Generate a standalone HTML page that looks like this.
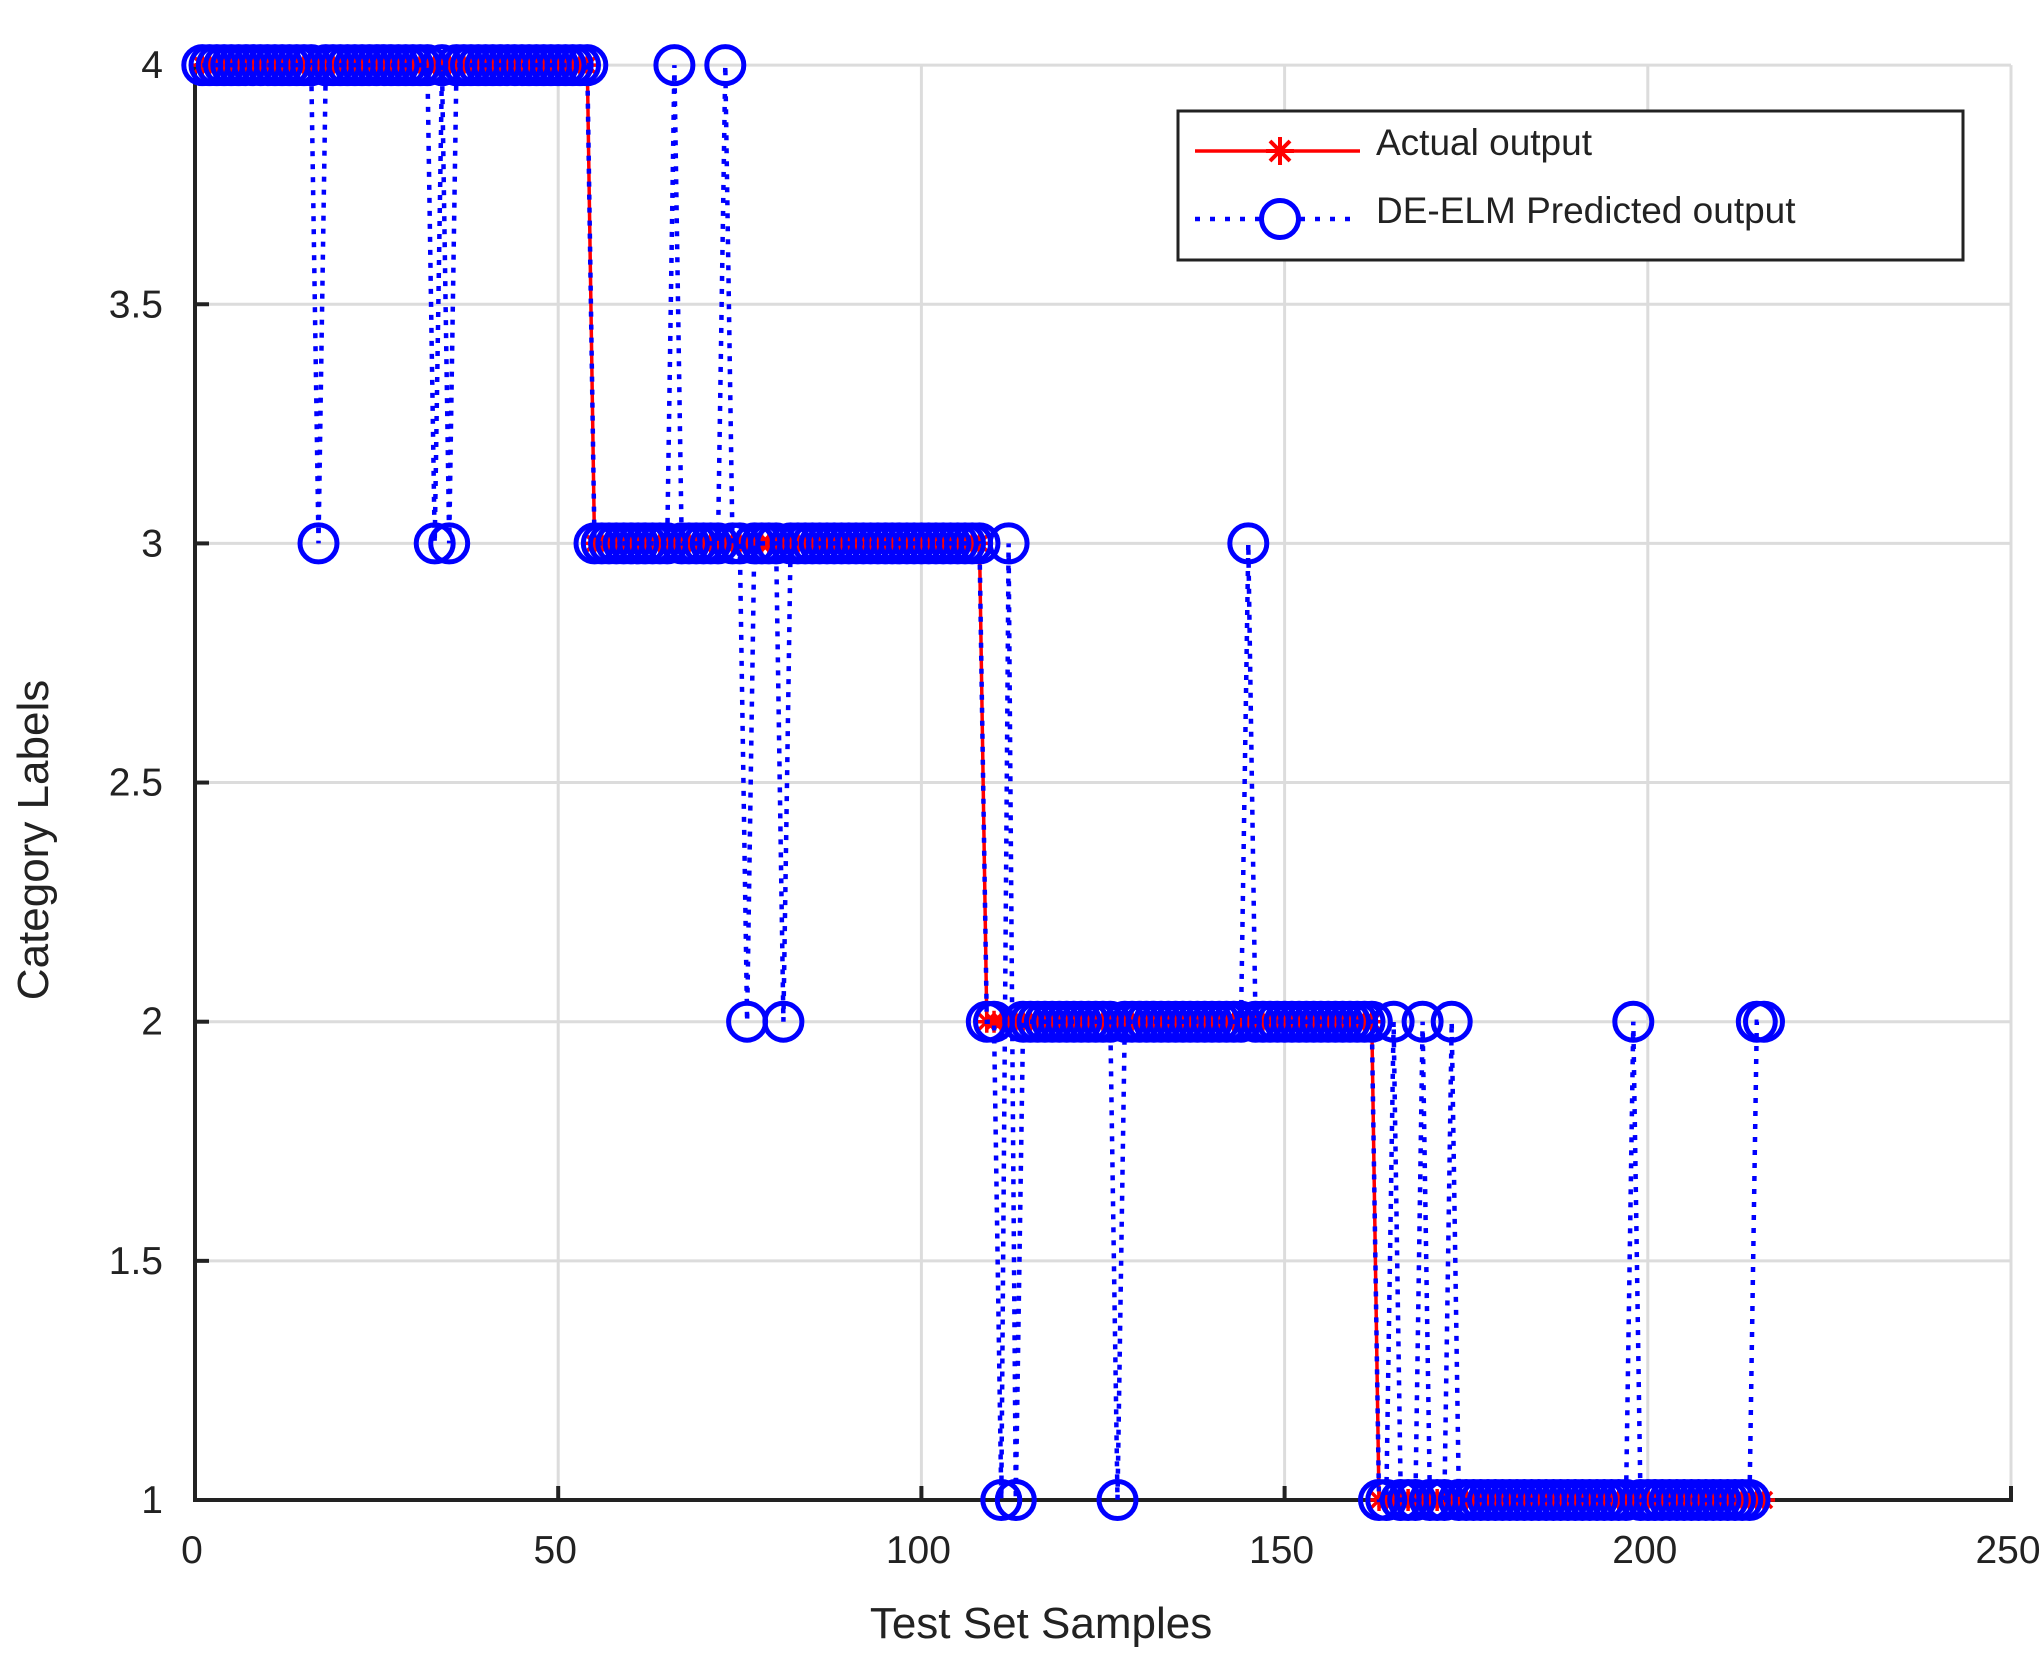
<!DOCTYPE html>
<html><head><meta charset="utf-8"><style>
html,body{margin:0;padding:0;background:#fff;}
svg{display:block;font-family:"Liberation Sans",Arial,sans-serif;}
</style></head><body>
<svg id="s" width="2041" height="1662" xmlns="http://www.w3.org/2000/svg"></svg>
<script>
const s=document.getElementById('s');
const X0=195,XS=7.264,Y1=1500,YS=478.3;
const px=x=>X0+x*XS, py=y=>Y1-(y-1)*YS;
let h='';
for(let x=50;x<=250;x+=50)h+=`<line x1="${px(x)}" y1="${py(4)}" x2="${px(x)}" y2="${py(1)}" stroke="#dcdcdc" stroke-width="3"/>`;
for(let y=1.5;y<=4;y+=0.5)h+=`<line x1="${px(0)}" y1="${py(y)}" x2="${px(250)}" y2="${py(y)}" stroke="#dcdcdc" stroke-width="3"/>`;
h+=`<line x1="${px(0)}" y1="${py(4)}" x2="${px(0)}" y2="${py(1)+2}" stroke="#222" stroke-width="4"/>`;
h+=`<line x1="${px(0)-2}" y1="${py(1)}" x2="${px(250)+2}" y2="${py(1)}" stroke="#222" stroke-width="4"/>`;
for(let x=0;x<=250;x+=50){h+=`<line x1="${px(x)}" y1="${py(1)}" x2="${px(x)}" y2="${py(1)-14}" stroke="#222" stroke-width="4"/>`;
 h+=`<text x="${px(x)-3}" y="1563" font-size="39" fill="#222" text-anchor="middle">${x}</text>`;}
for(let y=1;y<=4;y+=0.5){h+=`<line x1="${px(0)}" y1="${py(y)}" x2="${px(0)+14}" y2="${py(y)}" stroke="#222" stroke-width="4"/>`;
 h+=`<text x="163" y="${py(y)+13}" font-size="39" fill="#222" text-anchor="end">${y}</text>`;}
h+=`<text x="1041" y="1638" font-size="44" fill="#222" text-anchor="middle">Test Set Samples</text>`;
h+=`<text transform="translate(48,840) rotate(-90)" font-size="44" fill="#222" text-anchor="middle">Category Labels</text>`;
const N=216;const act=[],pred=[];
for(let i=1;i<=N;i++){let v=i<=54?4:i<=108?3:i<=162?2:1;act.push(v);pred.push(v);}
const dev={17:3,33:3,35:3,66:4,73:4,76:2,81:2,111:1,112:3,113:1,127:1,145:3,165:2,169:2,173:2,198:2,215:2,216:2};
for(const k in dev)pred[k-1]=dev[k];
let pa=act.map((v,i)=>`${px(i+1).toFixed(1)},${py(v).toFixed(1)}`).join(' ');
h+=`<polyline points="${pa}" fill="none" stroke="#f00" stroke-width="3.5"/>`;
act.forEach((v,i)=>{const cx=px(i+1),cy=py(v);h+=`<path d="M${cx-11},${cy}h22M${cx},${cy-11}v22M${cx-8},${cy-8}l16,16M${cx-8},${cy+8}l16,-16" stroke="#f00" stroke-width="3.5"/>`;});
let pp=pred.map((v,i)=>`${px(i+1).toFixed(1)},${py(v).toFixed(1)}`).join(' ');
h+=`<polyline points="${pp}" fill="none" stroke="#00f" stroke-width="4.5" stroke-dasharray="5,8"/>`;
pred.forEach((v,i)=>{h+=`<circle cx="${px(i+1).toFixed(1)}" cy="${py(v).toFixed(1)}" r="18.5" fill="none" stroke="#00f" stroke-width="5"/>`;});
h+=`<rect x="1178" y="111" width="785" height="149" fill="#fff" stroke="#222" stroke-width="3"/>`;
h+=`<line x1="1195" y1="151" x2="1360" y2="151" stroke="#f00" stroke-width="3.5"/>`;
h+=`<path d="M1266,151h28M1280,137v28M1270,141l20,20M1270,161l20,-20" stroke="#f00" stroke-width="4"/>`;
h+=`<text x="1376" y="155" font-size="37" fill="#222">Actual output</text>`;
h+=`<line x1="1195" y1="219" x2="1360" y2="219" stroke="#00f" stroke-width="4.5" stroke-dasharray="5,10"/>`;
h+=`<circle cx="1280" cy="219" r="18.5" fill="#fff" stroke="#00f" stroke-width="5"/>`;
h+=`<text x="1376" y="223" font-size="37" fill="#222">DE-ELM Predicted output</text>`;
s.innerHTML=h;
</script>
</body></html>
